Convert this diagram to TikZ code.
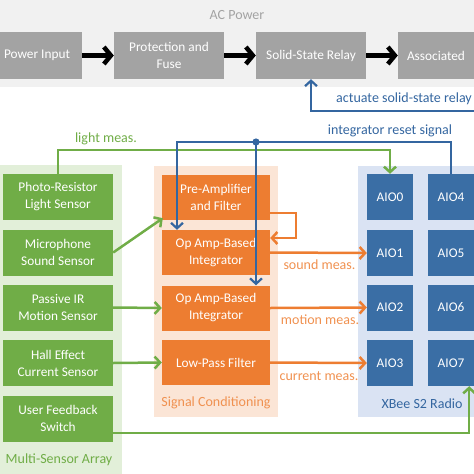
\documentclass[tikz,border=0pt]{standalone}
\usepackage{fontspec}
\setmainfont{Carlito}
\usetikzlibrary{arrows.meta,calc}
\definecolor{bandgray}{HTML}{F1F1F1}
\definecolor{boxgray}{HTML}{A3A3A3}
\definecolor{sgreen}{HTML}{70AD47}
\definecolor{sgreenbg}{HTML}{E2EFD9}
\definecolor{sorange}{HTML}{ED7D31}
\definecolor{sorangebg}{HTML}{FBE5D6}
\definecolor{ablue}{HTML}{3A6EA5}
\definecolor{lblue}{HTML}{3466A0}
\definecolor{ablueb}{HTML}{DAE3F3}
\newcommand{\fs}{\fontsize{13.3}{17}\selectfont}
\newcommand{\fl}{\fontsize{14}{17}\selectfont}
\begin{document}
\begin{tikzpicture}[x=1pt,y=-1pt,
  every node/.style={font=\fs, inner sep=0pt, align=center},
  graybox/.style={fill=boxgray, text=white, minimum height=47pt},
  gbox/.style={fill=sgreen, text=white, minimum width=110pt, minimum height=46pt},
  obox/.style={fill=sorange, text=white, minimum width=108pt, minimum height=45pt},
  abox/.style={fill=ablue, text=white, minimum width=46pt, minimum height=46pt},
  karrow/.style={draw=black, line width=4.5pt, -{Straight Barb[length=7pt,width=17pt]}},
  garrow/.style={draw=sgreen, line width=2.5pt, -{Straight Barb[length=5.5pt,width=12pt]}},
  oarrow/.style={draw=sorange, line width=2.5pt, -{Straight Barb[length=5.5pt,width=12pt]}},
  barrow/.style={draw=lblue, line width=2.2pt, -{Straight Barb[length=5.5pt,width=12pt]}},
  glabel/.style={text=sgreen, font=\fl},
  olabel/.style={text=sorange!85!white, font=\fl},
  blabel/.style={text=lblue, font=\fl},
]
\useasboundingbox (0,0) rectangle (474,474);
% backgrounds
\fill[bandgray] (-5,-5) rectangle (480,87);
\fill[sgreenbg] (-5,165) rectangle (122,480);
\fill[sorangebg] (154,166) rectangle (278,417);
\fill[ablueb] (358,166) rectangle (480,417);

% top row
\node[graybox, minimum width=90pt] (pin) at (37,55.5) {Power Input};
\node[graybox, minimum width=110pt] (prot) at (169,55.5) {Protection and\\Fuse};
\node[graybox, minimum width=110pt] (ssr) at (311,55.5) {Solid-State Relay};
\node[graybox, minimum width=76pt] (assoc) at (436,55.5) {Associated};
\node[text=boxgray, font=\fl] (acp) at (237,15) {AC Power};
\draw[karrow] (pin.east) -- (prot.west);
\draw[karrow] (prot.east) -- (ssr.west);
\draw[karrow] (ssr.east) -- (assoc.west);

% sensors
\node[gbox] (photo) at (58,197) {Photo-Resistor\\Light Sensor};
\node[gbox] (mic) at (58,252.5) {Microphone\\Sound Sensor};
\node[gbox] (pir) at (58,307.5) {Passive IR\\Motion Sensor};
\node[gbox] (hall) at (58,363) {Hall Effect\\Current Sensor};
\node[gbox] (user) at (58,418.5) {User Feedback\\Switch};
\node[glabel] (msa) at (59,460) {Multi-Sensor Array};

% signal conditioning
\node[obox] (pre) at (216,197.5) {Pre-Amplifier\\and Filter};
\node[obox] (op1) at (216,252.5) {Op Amp-Based\\Integrator};
\node[obox] (op2) at (216,308) {Op Amp-Based\\Integrator};
\node[obox] (lpf) at (216,362.5) {Low-Pass Filter};
\node[olabel] (sc) at (216,403) {Signal Conditioning};

% xbee
\node[abox] (aio0) at (390,197) {AIO0};
\node[abox] (aio1) at (390,253) {AIO1};
\node[abox] (aio2) at (390,307.5) {AIO2};
\node[abox] (aio3) at (390,363) {AIO3};
\node[abox] (aio4) at (451,197) {AIO4};
\node[abox] (aio5) at (451,253) {AIO5};
\node[abox] (aio6) at (451,307.5) {AIO6};
\node[abox] (aio7) at (451,363) {AIO7};
\node[blabel] (xb) at (422,404) {XBee S2 Radio};

% actuate relay
\coordinate (actR) at (485,110.7);
\draw[barrow] (actR) -| (ssr.south);
\node[blabel, anchor=east] (actl) at (472,99) {actuate solid-state relay};

% light meas
\coordinate (lmY) at (0,150);
\draw[garrow] (photo.north) |- (lmY -| aio0.north) -- (aio0.north);
\node[glabel] (lml) at (106,139) {light meas.};

% integrator reset
\coordinate (rstL) at (177,142);
\coordinate (dot) at (256,142);
\draw[barrow] (aio4.north) |- (rstL) -- (rstL |- op1.north);
\draw[barrow] (dot) -- (dot |- op2.north);
\fill[lblue] (dot) circle (3.6pt);
\node[blabel] (rsl) at (390,131) {integrator reset signal};

% sensor -> conditioning
\coordinate (preIn) at ($(pre.south west)+(1,-2)$);
\draw[garrow] (mic.east) -- (preIn);
\draw[garrow] (pir.east) -- (op2.west);
\draw[garrow] (hall.east) -- (lpf.west);

% pre -> op1 loop
\draw[oarrow] ($(pre.east)+(0,15.5)$) -- ++(26,0) |- ($(op1.east)+(0,-14.5)$);

% conditioning -> xbee
\draw[oarrow] (op1.east) -- (aio1.west);
\draw[oarrow] (op2.east) -- (aio2.west);
\draw[oarrow] (lpf.east) -- (aio3.west);
\node[olabel] (sml) at (319.5,265) {sound meas.};
\node[olabel] (mml) at (320,320) {motion meas.};
\node[olabel] (cml) at (319,376) {current meas.};

% user feedback
\coordinate (ufA) at (113,433);
\coordinate (ufB) at ($(aio7.south east)+(-5,0)$);
\draw[garrow] (ufA) -| (ufB);
\end{tikzpicture}
\end{document}
